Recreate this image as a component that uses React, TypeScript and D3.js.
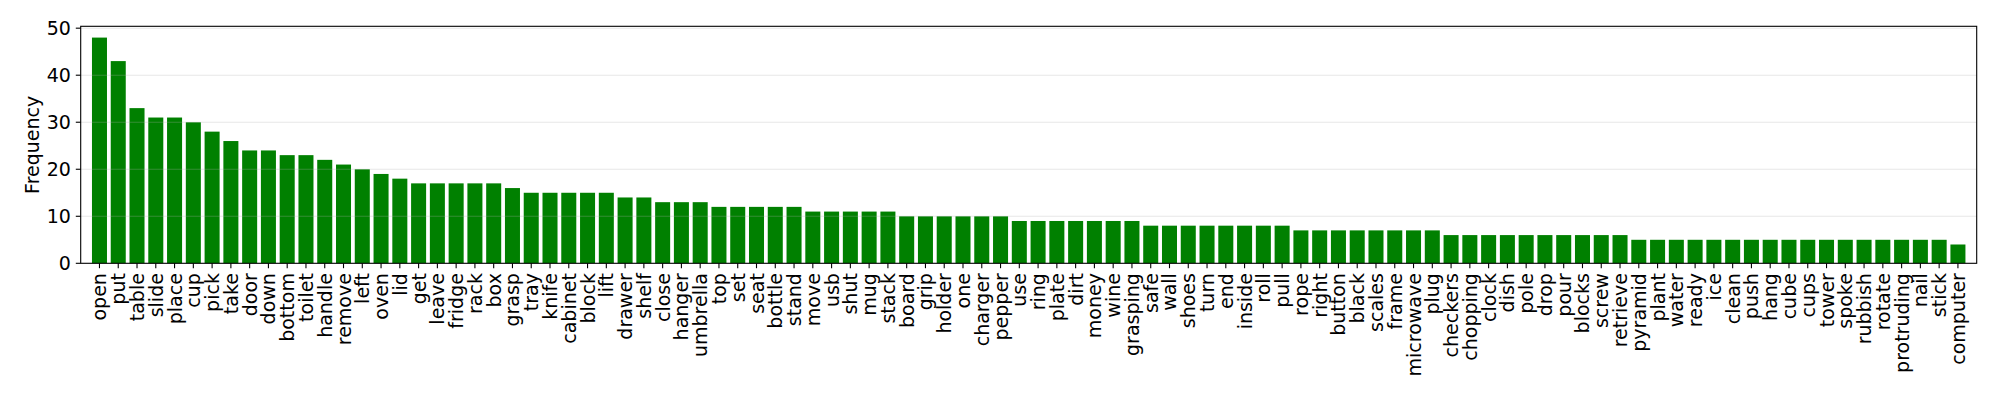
import React, { useEffect, useRef } from 'react';
import * as d3 from 'd3';

const words = [
  'open', 'put', 'table', 'slide', 'place', 'cup', 'pick', 'take', 'door', 'down',
  'bottom', 'toilet', 'handle', 'remove', 'left', 'oven', 'lid', 'get', 'leave', 'fridge',
  'rack', 'box', 'grasp', 'tray', 'knife', 'cabinet', 'block', 'lift', 'drawer', 'shelf',
  'close', 'hanger', 'umbrella', 'top', 'set', 'seat', 'bottle', 'stand', 'move', 'usb',
  'shut', 'mug', 'stack', 'board', 'grip', 'holder', 'one', 'charger', 'pepper', 'use',
  'ring', 'plate', 'dirt', 'money', 'wine', 'grasping', 'safe', 'wall', 'shoes', 'turn',
  'end', 'inside', 'roll', 'pull', 'rope', 'right', 'button', 'black', 'scales', 'frame',
  'microwave', 'plug', 'checkers', 'chopping', 'clock', 'dish', 'pole', 'drop', 'pour', 'blocks',
  'screw', 'retrieve', 'pyramid', 'plant', 'water', 'ready', 'ice', 'clean', 'push', 'hang',
  'cube', 'cups', 'tower', 'spoke', 'rubbish', 'rotate', 'protruding', 'nail', 'stick', 'computer'
];

const counts = [
  48, 43, 33, 31, 31, 30, 28, 26, 24, 24,
  23, 23, 22, 21, 20, 19, 18, 17, 17, 17,
  17, 17, 16, 15, 15, 15, 15, 15, 14, 14,
  13, 13, 13, 12, 12, 12, 12, 12, 11, 11,
  11, 11, 11, 10, 10, 10, 10, 10, 10, 9,
  9, 9, 9, 9, 9, 9, 8, 8, 8, 8,
  8, 8, 8, 8, 7, 7, 7, 7, 7, 7,
  7, 7, 6, 6, 6, 6, 6, 6, 6, 6,
  6, 6, 5, 5, 5, 5, 5, 5, 5, 5,
  5, 5, 5, 5, 5, 5, 5, 5, 5, 4
];

const yTicks = [0, 10, 20, 30, 40, 50];

const FrequencyChart: React.FC = () => {
  const svgRef = useRef<SVGSVGElement>(null);
  const width = 2000;
  const height = 400;

  useEffect(() => {
    if (!svgRef.current) return;
    const svg = d3.select(svgRef.current);
    svg.selectAll('*').remove();

    const left = 80.7;
    const right = 1976.7;
    const top = 26.3;
    const bottom = 263.3;
    const font = 'DejaVu Sans, sans-serif';
    const fontSize = 19;
    const tickLen = 4.9;
    const pad = 4.9;

    const x = d3.scaleLinear().domain([-1, 100]).range([left, right]);
    const y = d3.scaleLinear().domain([0, 50.4]).range([bottom, top]);
    const barW = x(0.8) - x(0);

    const g = svg.append('g');

    // bars
    g.selectAll('.bar')
      .data(counts)
      .enter()
      .append('rect')
      .attr('class', 'bar')
      .attr('x', (_, i) => x(i - 0.4))
      .attr('y', d => y(d))
      .attr('width', barW)
      .attr('height', d => bottom - y(d))
      .attr('fill', '#008000');

    // horizontal grid on top of bars
    g.selectAll('.grid')
      .data(yTicks.filter(t => t > 0))
      .enter()
      .append('line')
      .attr('x1', left)
      .attr('x2', right)
      .attr('y1', d => y(d))
      .attr('y2', d => y(d))
      .attr('stroke', '#b0b0b0')
      .attr('stroke-opacity', 0.3)
      .attr('stroke-width', 1.1);

    // frame
    g.append('rect')
      .attr('x', left)
      .attr('y', top)
      .attr('width', right - left)
      .attr('height', bottom - top)
      .attr('fill', 'none')
      .attr('stroke', '#000')
      .attr('stroke-width', 1.1);

    // x ticks + labels
    const xt = g.selectAll('.xtick')
      .data(words)
      .enter()
      .append('g')
      .attr('transform', (_, i) => `translate(${x(i)},${bottom})`);
    xt.append('line')
      .attr('y1', 0)
      .attr('y2', tickLen)
      .attr('stroke', '#000')
      .attr('stroke-width', 1.1);
    xt.append('text')
      .attr('transform', `translate(0,${tickLen + pad}) rotate(-90)`)
      .attr('text-anchor', 'end')
      .attr('dominant-baseline', 'central')
      .style('font-family', font)
      .style('font-size', `${fontSize}px`)
      .attr('fill', '#000')
      .text(d => d);

    // y ticks + labels
    const yt = g.selectAll('.ytick')
      .data(yTicks)
      .enter()
      .append('g')
      .attr('transform', d => `translate(${left},${y(d)})`);
    yt.append('line')
      .attr('x1', -tickLen)
      .attr('x2', 0)
      .attr('stroke', '#000')
      .attr('stroke-width', 1.1);
    yt.append('text')
      .attr('x', -tickLen - pad)
      .attr('text-anchor', 'end')
      .attr('dominant-baseline', 'central')
      .style('font-family', font)
      .style('font-size', `${fontSize}px`)
      .attr('fill', '#000')
      .text(d => d);

    // y label
    svg.append('text')
      .attr('transform', `translate(31.5,${(top + bottom) / 2}) rotate(-90)`)
      .attr('text-anchor', 'middle')
      .attr('dominant-baseline', 'central')
      .style('font-family', font)
      .style('font-size', `${fontSize}px`)
      .attr('fill', '#000')
      .text('Frequency');
  }, []);

  return (
    <svg
      ref={svgRef}
      width={width}
      height={height}
      style={{ position: 'absolute', left: 0, top: 0, background: '#fff' }}
    />
  );
};

export default function App() {
  return <FrequencyChart />;
}
